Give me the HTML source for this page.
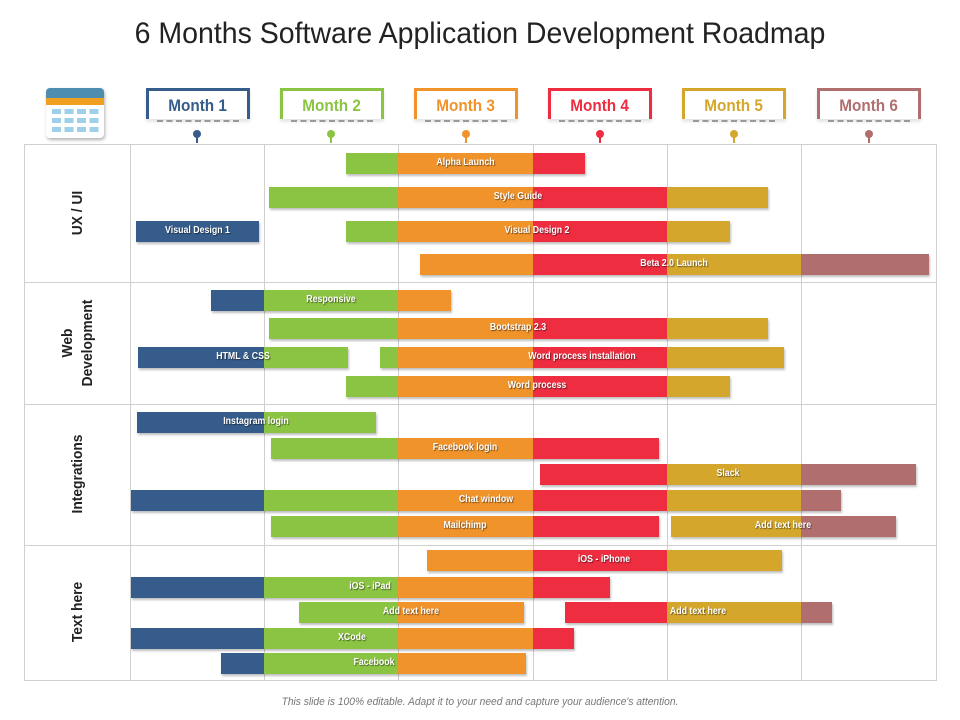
<!DOCTYPE html>
<html><head><meta charset="utf-8"><style>
body{margin:0;width:960px;height:720px;background:#fff;position:relative;overflow:hidden;font-family:"Liberation Sans",sans-serif}
.t{position:absolute;left:0;width:960px;top:17px;text-align:center;font-size:30px;color:#222;transform:scaleX(.95)}
.grid{position:absolute;left:24px;top:144px;width:911px;height:535px;border:1px solid #d0d0d0}
.v{position:absolute;top:144px;height:536px;width:1px;background:#cfcfcf}
.h{position:absolute;left:24px;width:912px;height:1px;background:#cfcfcf}
.bar{position:absolute;height:21px;overflow:hidden;box-shadow:1px 2px 2px rgba(0,0,0,.25)}
.bg{position:absolute;top:0;height:21px;width:960px;background:linear-gradient(to right,#355c8a 0,#355c8a 264px,#8bc443 264px,#8bc443 398px,#f0932a 398px,#f0932a 533px,#ee2d41 533px,#ee2d41 667px,#d4a72c 667px,#d4a72c 801px,#b06e6e 801px)}
.lb{position:absolute;height:21px;line-height:19px;color:#fff;font-weight:bold;font-size:10px;text-align:center;text-shadow:1px 1px 1px rgba(0,0,0,.5);white-space:nowrap;transform:scaleX(.88)}
.m{position:absolute;top:88px;width:98px;height:28px;border:3px solid;border-bottom:none;text-align:center;font-weight:bold;font-size:17px;line-height:30px;box-shadow:0 3px 3px rgba(0,0,0,.1)}
.m span{display:inline-block;transform:scaleX(.9)}
.m:after{content:"";position:absolute;left:8px;right:8px;bottom:-3px;border-bottom:2px dashed #999}
.pin{position:absolute;top:130px;width:8px;height:8px;border-radius:50%}
.pin:after{content:"";position:absolute;left:3px;top:7px;width:2px;height:6px;background:inherit}
.side{position:absolute;width:140px;text-align:center;font-weight:bold;font-size:15px;color:#222;transform:translate(-50%,-50%) rotate(-90deg) scaleX(.92);line-height:20px}
.f{position:absolute;top:696px;left:0;width:960px;text-align:center;font-style:italic;font-size:11px;color:#777;transform:scaleX(.93)}
</style></head><body>
<div class="t">6 Months Software Application Development Roadmap</div>
<div style="position:absolute;left:46px;top:88px;width:58px;height:50px;border-radius:4px;background:#fff;box-shadow:1px 2px 3px rgba(0,0,0,.3);overflow:hidden">
<div style="height:10px;background:#4f8db0"></div><div style="height:7px;background:#f0a020"></div>
<div style="position:absolute;left:6px;top:21px;width:48px;height:26px;background:repeating-linear-gradient(to right,#9fd0ea 0,#9fd0ea 9px,transparent 9px,transparent 12.5px);-webkit-mask:repeating-linear-gradient(to bottom,#000 0,#000 5px,transparent 5px,transparent 9px)"></div></div>
<div class="m" style="left:146px;border-color:#355c8a;color:#355c8a"><span>Month 1</span></div>
<div class="m" style="left:280px;border-color:#8bc443;color:#8bc443"><span>Month 2</span></div>
<div class="m" style="left:414px;border-color:#f0932a;color:#f0932a"><span>Month 3</span></div>
<div class="m" style="left:548px;border-color:#ee2d41;color:#ee2d41"><span>Month 4</span></div>
<div class="m" style="left:682px;border-color:#d4a72c;color:#d4a72c"><span>Month 5</span></div>
<div class="m" style="left:817px;border-color:#b06e6e;color:#b06e6e"><span>Month 6</span></div>
<div class="pin" style="left:193px;background:#355c8a"></div>
<div class="pin" style="left:327px;background:#8bc443"></div>
<div class="pin" style="left:462px;background:#f0932a"></div>
<div class="pin" style="left:596px;background:#ee2d41"></div>
<div class="pin" style="left:730px;background:#d4a72c"></div>
<div class="pin" style="left:865px;background:#b06e6e"></div>
<div class="grid"></div>
<div class="v" style="left:130px"></div><div class="v" style="left:264px"></div><div class="v" style="left:398px"></div><div class="v" style="left:533px"></div><div class="v" style="left:667px"></div><div class="v" style="left:801px"></div>
<div class="h" style="top:282px"></div><div class="h" style="top:404px"></div><div class="h" style="top:545px"></div>
<div class="side" style="left:78px;top:213px">UX / UI</div>
<div class="side" style="left:78px;top:343px">Web<br>Development</div>
<div class="side" style="left:78px;top:474px">Integrations</div>
<div class="side" style="left:78px;top:612px">Text here</div>

<div class="bar" style="left:346px;top:153px;width:239px"><div class="bg" style="left:-346px"></div></div>
<div class="bar" style="left:269px;top:187px;width:499px"><div class="bg" style="left:-269px"></div></div>
<div class="bar" style="left:136px;top:221px;width:123px"><div class="bg" style="left:-136px"></div></div>
<div class="bar" style="left:346px;top:221px;width:384px"><div class="bg" style="left:-346px"></div></div>
<div class="bar" style="left:420px;top:254px;width:509px"><div class="bg" style="left:-420px"></div></div>
<div class="bar" style="left:211px;top:290px;width:240px"><div class="bg" style="left:-211px"></div></div>
<div class="bar" style="left:269px;top:318px;width:499px"><div class="bg" style="left:-269px"></div></div>
<div class="bar" style="left:138px;top:347px;width:210px"><div class="bg" style="left:-138px"></div></div>
<div class="bar" style="left:380px;top:347px;width:404px"><div class="bg" style="left:-380px"></div></div>
<div class="bar" style="left:346px;top:376px;width:384px"><div class="bg" style="left:-346px"></div></div>
<div class="bar" style="left:137px;top:412px;width:239px"><div class="bg" style="left:-137px"></div></div>
<div class="bar" style="left:271px;top:438px;width:388px"><div class="bg" style="left:-271px"></div></div>
<div class="bar" style="left:540px;top:464px;width:376px"><div class="bg" style="left:-540px"></div></div>
<div class="bar" style="left:131px;top:490px;width:710px"><div class="bg" style="left:-131px"></div></div>
<div class="bar" style="left:271px;top:516px;width:388px"><div class="bg" style="left:-271px"></div></div>
<div class="bar" style="left:671px;top:516px;width:225px"><div class="bg" style="left:-671px"></div></div>
<div class="bar" style="left:427px;top:550px;width:355px"><div class="bg" style="left:-427px"></div></div>
<div class="bar" style="left:131px;top:577px;width:479px"><div class="bg" style="left:-131px"></div></div>
<div class="bar" style="left:299px;top:602px;width:225px"><div class="bg" style="left:-299px"></div></div>
<div class="bar" style="left:565px;top:602px;width:267px"><div class="bg" style="left:-565px"></div></div>
<div class="bar" style="left:131px;top:628px;width:443px"><div class="bg" style="left:-131px"></div></div>
<div class="bar" style="left:221px;top:653px;width:305px"><div class="bg" style="left:-221px"></div></div>

<div class="lb" style="left:398px;width:135px;top:153px">Alpha Launch</div>
<div class="lb" style="left:418px;width:200px;top:187px">Style Guide</div>
<div class="lb" style="left:136px;width:123px;top:221px">Visual Design 1</div>
<div class="lb" style="left:437px;width:200px;top:221px">Visual Design 2</div>
<div class="lb" style="left:574px;width:200px;top:254px">Beta 2.0 Launch</div>
<div class="lb" style="left:264px;width:134px;top:290px">Responsive</div>
<div class="lb" style="left:418px;width:200px;top:318px">Bootstrap 2.3</div>
<div class="lb" style="left:143px;width:200px;top:347px">HTML &amp; CSS</div>
<div class="lb" style="left:482px;width:200px;top:347px">Word process installation</div>
<div class="lb" style="left:437px;width:200px;top:376px">Word process</div>
<div class="lb" style="left:156px;width:200px;top:412px">Instagram login</div>
<div class="lb" style="left:365px;width:200px;top:438px">Facebook login</div>
<div class="lb" style="left:628px;width:200px;top:464px">Slack</div>
<div class="lb" style="left:386px;width:200px;top:490px">Chat window</div>
<div class="lb" style="left:365px;width:200px;top:516px">Mailchimp</div>
<div class="lb" style="left:683px;width:200px;top:516px">Add text here</div>
<div class="lb" style="left:504px;width:200px;top:550px">iOS - iPhone</div>
<div class="lb" style="left:270px;width:200px;top:577px">iOS - iPad</div>
<div class="lb" style="left:311px;width:200px;top:602px">Add text here</div>
<div class="lb" style="left:598px;width:200px;top:602px">Add text here</div>
<div class="lb" style="left:252px;width:200px;top:628px">XCode</div>
<div class="lb" style="left:274px;width:200px;top:653px">Facebook</div>
<div class="f">This slide is 100% editable. Adapt it to your need and capture your audience's attention.</div>
</body></html>
